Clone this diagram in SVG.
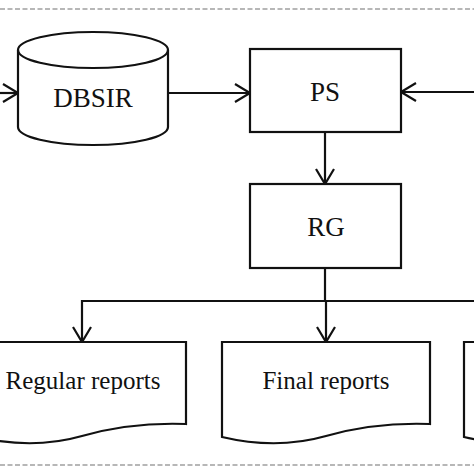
<svg xmlns="http://www.w3.org/2000/svg" width="474" height="474" viewBox="0 0 474 474">
<style>
.s{fill:#fff;stroke:#111;stroke-width:2.2;stroke-linejoin:miter}
.c{fill:none;stroke:#111;stroke-width:2.2}
.t{font-family:"Liberation Serif","Times New Roman",serif;fill:#111;text-anchor:middle}
.d{fill:none;stroke:#a0a0a0;stroke-width:1.5;stroke-dasharray:5 2.5}
</style>
<defs>
<marker id="a" markerUnits="userSpaceOnUse" markerWidth="24" markerHeight="24" viewBox="-18 -12 20 24" refX="0" refY="0" orient="auto">
<path d="M-15,-9 L0,0 L-15,9" fill="none" stroke="#111" stroke-width="2.2"/>
</marker>
</defs>
<line class="d" x1="0" y1="9" x2="474" y2="9"/>
<line class="d" x1="0" y1="465" x2="474" y2="465"/>
<g id="connectors">
<line class="c" x1="0" y1="93" x2="18" y2="93" marker-end="url(#a)"/>
<line class="c" x1="168" y1="93" x2="250" y2="93" marker-end="url(#a)"/>
<line class="c" x1="474" y1="92" x2="401" y2="92" marker-end="url(#a)"/>
<line class="c" x1="325" y1="132" x2="325" y2="184" marker-end="url(#a)"/>
<line class="c" x1="325" y1="268" x2="325" y2="301"/>
<polyline class="c" points="474,301 82,301 82,342" marker-end="url(#a)"/>
<line class="c" x1="326" y1="301" x2="326" y2="342" marker-end="url(#a)"/>
</g>
<g id="dbsir">
<path class="s" d="M18,50 V127 A75,18 0 0 0 168,127 V50 A75,18 0 0 0 18,50 Z"/>
<path class="c" d="M18,50 A75,18 0 0 0 168,50"/>
<text class="t" x="93" y="107" font-size="27">DBSIR</text>
</g>
<g id="ps">
<rect class="s" x="250" y="49" width="151" height="83"/>
<text class="t" x="325" y="101" font-size="27">PS</text>
</g>
<g id="rg">
<rect class="s" x="250" y="184" width="151" height="84"/>
<text class="t" x="326" y="236" font-size="27">RG</text>
</g>
<g id="regular">
<path class="s" d="M-22,342 H186 V424 Q131,422 82,436 Q33,450 -22,437 Z"/>
<text class="t" x="83" y="389" font-size="25">Regular reports</text>
</g>
<g id="final">
<path class="s" d="M222,342 H430 V424 Q375,422 326,436 Q277,450 222,437 Z"/>
<text class="t" x="326" y="389" font-size="25">Final reports</text>
</g>
<g id="third">
<path class="s" d="M464,342 H672 V424 Q617,422 568,436 Q519,450 464,437 Z"/>
</g>
</svg>
